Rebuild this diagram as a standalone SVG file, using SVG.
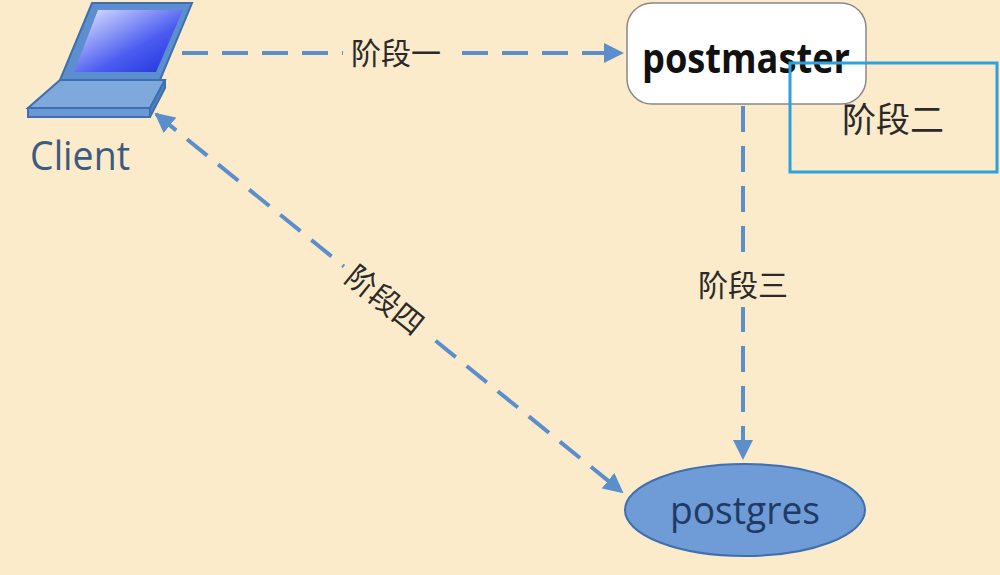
<svg xmlns="http://www.w3.org/2000/svg" width="1000" height="575" viewBox="0 0 1000 575">
<style>
.c{stroke:#5b8fcc;stroke-width:4;stroke-dasharray:26 14;fill:none}
.lbl{font-family:"Noto Sans CJK SC",sans-serif;font-size:30px;fill:#2a2a2a}
</style>
<defs>
<marker id="a" viewBox="0 0 10 10" refX="9" refY="5" markerWidth="5" markerHeight="5" orient="auto-start-reverse"><path d="M0,0L10,5L0,10z" fill="#5b8fcc"/></marker>
<linearGradient id="scr" x1="0" y1="0" x2="1" y2="1"><stop offset="0" stop-color="#e8ecff"/><stop offset="0.6" stop-color="#4a5cf0"/><stop offset="1" stop-color="#1c2fd8"/></linearGradient>
</defs>
<rect width="1000" height="575" fill="#fcebcb"/>
<g id="connectors">
<line class="c" x1="182" y1="53" x2="622" y2="53" marker-end="url(#a)"/>
<line class="c" x1="743" y1="106" x2="743" y2="458" marker-end="url(#a)"/>
<line class="c" x1="156" y1="114" x2="622" y2="492" marker-start="url(#a)" marker-end="url(#a)"/>
<rect x="343" y="31" width="106" height="44" fill="#fcebcb"/>
<text class="lbl" x="396" y="64" text-anchor="middle">阶段一</text>
<rect x="690" y="263" width="106" height="44" fill="#fcebcb"/>
<text class="lbl" x="743" y="296" text-anchor="middle">阶段三</text>
<g transform="translate(385,300) rotate(39)"><rect x="-53" y="-22" width="106" height="44" fill="#fcebcb"/><text class="lbl" x="0" y="11" text-anchor="middle">阶段四</text></g>
</g>
<g id="client">
<polygon points="92,3 192,3 160,80 60,80" fill="#5d8fd0" stroke="#3e6fae" stroke-width="2"/>
<polygon points="98,10 183,10 156,72 74,72" fill="url(#scr)"/>
<polygon points="60,80 165,80 150,108 28,108" fill="#7fa8dc" stroke="#3e6fae" stroke-width="2"/>
<polygon points="28,108 150,108 150,117 28,117" fill="#6a98d4" stroke="#3e6fae" stroke-width="2"/>
<polygon points="150,108 165,80 165,88 150,117" fill="#4f80c0" stroke="#3e6fae" stroke-width="2"/>
<text x="80" y="170" text-anchor="middle" font-family="Open Sans,sans-serif" font-size="40" fill="#3d5a80" textLength="100" lengthAdjust="spacingAndGlyphs">Client</text>
</g>
<g id="postmaster">
<rect x="627" y="3" width="239" height="101" rx="25" fill="#fff" stroke="#888" stroke-width="1.5"/>
<text x="746" y="73" text-anchor="middle" font-family="Open Sans,sans-serif" font-weight="bold" font-size="42" fill="#111" textLength="208" lengthAdjust="spacingAndGlyphs">postmaster</text>
</g>
<g id="stage2">
<rect x="790" y="63" width="207" height="109" fill="none" stroke="#2ea0dc" stroke-width="3"/>
<text class="lbl" x="893" y="132" text-anchor="middle" style="font-size:34px">阶段二</text>
</g>
<g id="postgres">
<ellipse cx="745" cy="510" rx="120" ry="46" fill="#6f9bd6" stroke="#3e6fae" stroke-width="2"/>
<text x="745" y="524" text-anchor="middle" font-family="Open Sans,sans-serif" font-size="38" fill="#1f3a66" textLength="150" lengthAdjust="spacingAndGlyphs">postgres</text>
</g>
</svg>
